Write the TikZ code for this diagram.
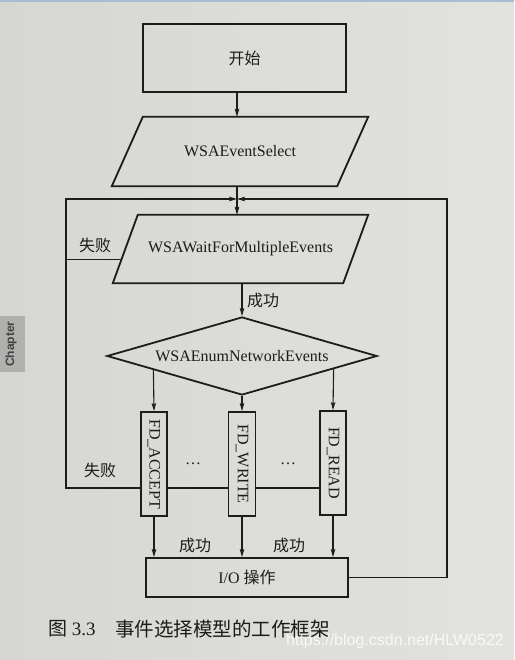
\documentclass[tikz,border=0pt]{standalone}
\usepackage{graphicx}
\usepackage{fontspec}
\setmainfont{Liberation Serif}
\newfontfamily\cjk{Noto Sans CJK SC}
\newfontfamily\wmfont{Liberation Sans}
\usetikzlibrary{arrows.meta,shapes.geometric,calc}
\definecolor{paper}{RGB}{226,226,222}
\definecolor{paperL}{RGB}{214,214,210}
\definecolor{ink}{RGB}{28,28,28}
\definecolor{tabgray}{RGB}{176,176,174}
\definecolor{tabtext}{RGB}{66,66,66}
\definecolor{topbar}{RGB}{170,188,212}
\newcommand\fsz{\fontsize{16}{19}\selectfont}
\begin{document}
\begin{tikzpicture}[x=1pt,y=-1pt,
  box/.style={draw=ink, line width=1.8pt, rectangle, inner sep=0pt, font=\fsz, text=ink},
  para/.style={rectangle, inner sep=0pt, font=\fsz, text=ink},
  shp/.style={draw=ink, line width=1.8pt, line join=miter},
  conn/.style={draw=ink, line width=1.1pt, -{Stealth[length=8pt,width=4.5pt,inset=1.5pt]}},
  plain/.style={draw=ink, line width=1.1pt},
  cn/.style={font=\fsz\cjk, text=ink, inner sep=0pt},
  lab/.style={font=\fsz, text=ink, inner sep=0pt}
]
\fill[left color=paperL, right color=paper] (0,0) rectangle (514,660);
\useasboundingbox (0,0) rectangle (514,660);
\fill[topbar] (0,0) rectangle (514,2);

% chapter tab
\fill[tabgray] (0,316) rectangle (25,372);
\node[rotate=90, font=\fontsize{12}{14}\selectfont\wmfont\bfseries, text=tabtext, inner sep=0pt] (chap) at (11,344) {Chapter};

% helper coordinates
\coordinate (axis) at (237,0);
\coordinate (J) at (237,199);
\coordinate (lx) at (66,0);
\coordinate (rx) at (447,0);
\coordinate (fy) at (0,488);

% nodes
\node[box, minimum width=203, minimum height=68] (start) at (244.5,58) {\cjk 开始};

\node[para, minimum width=256, minimum height=69] (es) at (240,151.5) {WSAEventSelect};
\draw[shp] ([xshift=31pt]es.north west) -- (es.north east) -- ([xshift=-31pt]es.south east) -- (es.south west) -- cycle;

\node[para, minimum width=255, minimum height=68] (wait) at (240.5,249) {WSAWaitForMultipleEvents};
\draw[shp] ([xshift=25pt]wait.north west) -- (wait.north east) -- ([xshift=-25pt]wait.south east) -- (wait.south west) -- cycle;
\coordinate (wtl) at ([xshift=25pt]wait.north west);
\coordinate (wbl) at (wait.south west);
\coordinate (wfail) at ($(wbl)!0.353!(wtl)$);

\node[diamond, aspect=3.46, draw=ink, line width=1.8pt, minimum width=270, minimum height=78, inner sep=0pt, font=\fsz, text=ink] (dia) at (242,356) {WSAEnumNetworkEvents};

\node[box, minimum width=26, minimum height=104] (acc) at (154,464) {\rotatebox{-90}{FD\_ACCEPT}};
\node[box, minimum width=27, minimum height=104] (wr) at (242,464) {\rotatebox{-90}{FD\_WRITE}};
\node[box, minimum width=26, minimum height=104] (rd) at (333,463) {\rotatebox{-90}{FD\_READ}};

\node[box, minimum width=202, minimum height=39] (io) at (247,577.5) {I/O {\cjk 操作}};

% connectors
\draw[conn] (start.south -| axis) -- (es.north -| axis);
\draw[conn] (es.south -| axis) -- (wait.north -| axis);
\draw[conn] (wait.south -| dia.north) -- (dia.north);
\draw[conn] ($(dia.west)!0.348!(dia.south)$) -- (acc.north);
\draw[conn] (dia.south) -- (wr.north);
\draw[conn] ($(dia.south)!0.674!(dia.east)$) -- (rd.north);
\draw[conn] (acc.south) -- (acc.south |- io.north);
\draw[conn] (wr.south) -- (wr.south |- io.north);
\draw[conn] (rd.south) -- (rd.south |- io.north);

% failure loop (left)
\draw[plain] (rd.west |- fy) -- (wr.east |- fy);
\draw[plain] (wr.west |- fy) -- (acc.east |- fy);
\draw[conn] (acc.west |- fy) -| (lx |- J) -- (J);
\draw[plain] (wfail) -- (wfail -| lx);
% loop (right)
\draw[conn] (io.east) -| (rx |- J) -- (J);

% labels
\node[cn] (s1) at (263,300) {成功};
\node[cn] (f1) at (95,245) {失败};
\node[cn] (f2) at (100,470) {失败};
\node[cn] (s2) at (195,545) {成功};
\node[cn] (s3) at (289,545) {成功};
\node[lab] (d1) at (193,464) {…};
\node[lab] (d2) at (288,464) {…};

% caption
\node[anchor=west, inner sep=0pt, font=\fontsize{19}{22}\selectfont, text=ink] (cap1) at (48,629) {{\cjk 图} 3.3};
\node[anchor=west, inner sep=0pt, font=\fontsize{19.5}{22}\selectfont\cjk, text=ink] (cap2) at (115,629) {事件选择模型的工作框架};
\node[anchor=west, inner sep=0pt, font=\fontsize{16}{19}\selectfont\wmfont, text=white, opacity=0.8] (wm) at (286,641) {https://blog.csdn.net/HLW0522};
\end{tikzpicture}
\end{document}
